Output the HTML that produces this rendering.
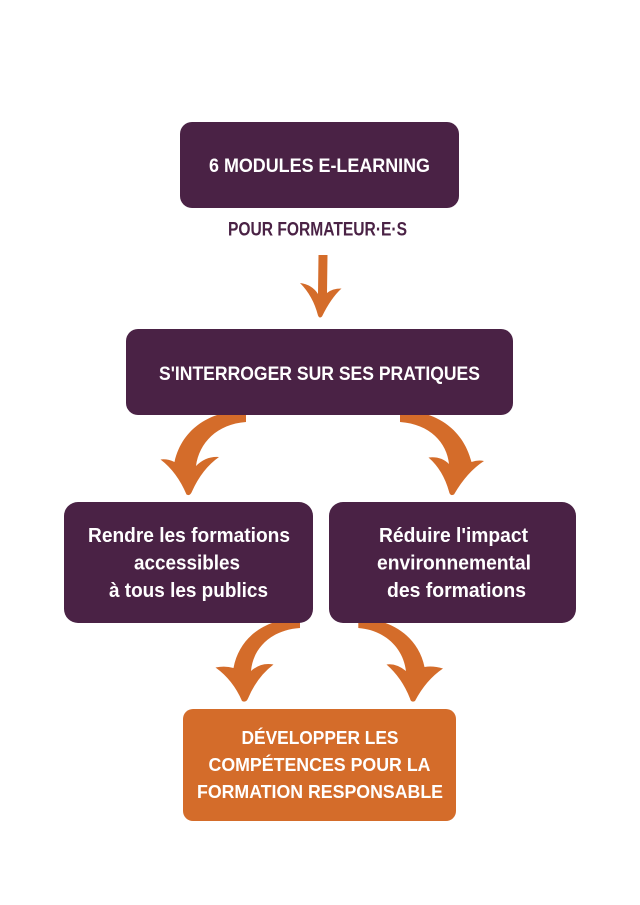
<!DOCTYPE html>
<html>
<head>
<meta charset="utf-8">
<style>
  html, body { margin: 0; padding: 0; background: #ffffff; }
  body { width: 640px; height: 905px; overflow: hidden; }
  svg { display: block; }
  text { font-family: "Liberation Sans", "DejaVu Sans", sans-serif; font-weight: bold; }
</style>
</head>
<body>
<svg width="640" height="905" viewBox="0 0 640 905" xmlns="http://www.w3.org/2000/svg">
  <rect x="0" y="0" width="640" height="905" fill="#ffffff"/>

  <!-- Arrows -->
  <g fill="#D46C2A">
    <!-- straight arrow -->
    <path d="M318.5,255 L327.5,255 L327,293 Q332,288.5 341.5,288.5 Q331,298 322,316.5 Q319.5,319 318,315.5 Q313,296 300,283 Q312,284.5 318,294 Z"/>
    <!-- left curved arrow (middle) -->
    <path d="M246,411.5 C218,409 183,424 174.5,462 Q167,458.5 160.5,459.5 Q177,472 186.5,494.5 Q190,496.5 192,491.5 Q202,469 219,457 Q206,456 196,466 C199,443 217,424 246,422 Z"/>
    <!-- right curved arrow (middle) -->
    <path d="M400,411.5 C428,409 462,424 471.5,462 Q478,459.5 484,461 Q467,472 454,494.5 Q450,496.5 449,491.5 Q443,470 428.5,457.5 Q441,456 449,464 C447,443 430,424 400,422 Z"/>
    <!-- bottom left arrow -->
    <path d="M300,619 C272,617 240,633 233.5,668 Q225,665.5 215.5,667.5 Q233,680 242,701 Q246,703 248,698.5 Q257,677 273.5,664.5 Q261,662 251,671 C253,648 271,630 300,628 Z"/>
    <!-- bottom right arrow -->
    <path d="M358.3,619 C386,617 418,634 424.5,667 Q433,665.5 443,668.5 Q426,680 415,701 Q411,703 410,698.5 Q402,678 386.5,664.5 Q396,663 406,671 C403,647 384,630 358.3,628 Z"/>
  </g>

  <!-- Boxes -->
  <rect x="180" y="122" width="279" height="86" rx="12" ry="12" fill="#4A2245"/>
  <rect x="126" y="329" width="387" height="86" rx="12" ry="12" fill="#4A2245"/>
  <rect x="64" y="502" width="249" height="121" rx="14" ry="14" fill="#4A2245"/>
  <rect x="329" y="502" width="247" height="121" rx="14" ry="14" fill="#4A2245"/>
  <rect x="183" y="709" width="273" height="112" rx="10" ry="10" fill="#D46C2A"/>

  <!-- Texts -->
  <g fill="#ffffff" text-anchor="middle">
    <text x="319.5" y="172" font-size="19.5" textLength="221" lengthAdjust="spacingAndGlyphs">6 MODULES E-LEARNING</text>
    <text x="319.5" y="380" font-size="19.5" textLength="321" lengthAdjust="spacingAndGlyphs">S'INTERROGER SUR SES PRATIQUES</text>

    <text x="189" y="542" font-size="20" textLength="202" lengthAdjust="spacingAndGlyphs">Rendre les formations</text>
    <text x="187" y="569.5" font-size="20" textLength="106" lengthAdjust="spacingAndGlyphs">accessibles</text>
    <text x="188.5" y="597" font-size="20" textLength="159" lengthAdjust="spacingAndGlyphs">à tous les publics</text>

    <text x="453.5" y="542" font-size="20" textLength="149" lengthAdjust="spacingAndGlyphs">Réduire l'impact</text>
    <text x="454" y="569.5" font-size="20" textLength="154" lengthAdjust="spacingAndGlyphs">environnemental</text>
    <text x="456.5" y="597" font-size="20" textLength="139" lengthAdjust="spacingAndGlyphs">des formations</text>

    <text x="320" y="744" font-size="18" textLength="157" lengthAdjust="spacingAndGlyphs">DÉVELOPPER LES</text>
    <text x="319.5" y="771" font-size="18" textLength="222" lengthAdjust="spacingAndGlyphs">COMPÉTENCES POUR LA</text>
    <text x="320" y="798" font-size="18" textLength="246" lengthAdjust="spacingAndGlyphs">FORMATION RESPONSABLE</text>
  </g>
  <text x="317.5" y="235.5" font-size="19" fill="#4A2245" text-anchor="middle" textLength="179" lengthAdjust="spacingAndGlyphs">POUR FORMATEUR·E·S</text>
</svg>
</body>
</html>
